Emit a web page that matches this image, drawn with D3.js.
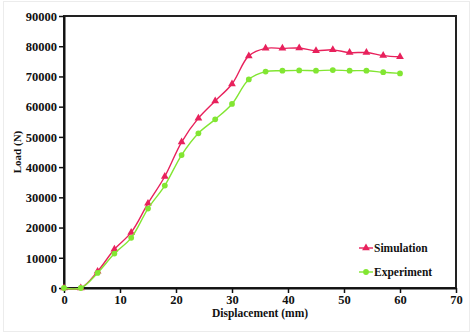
<!DOCTYPE html>
<html><head><meta charset="utf-8">
<script src="https://cdn.jsdelivr.net/npm/d3@7"></script>
<style>
html,body{margin:0;padding:0;background:#fff;}
svg{display:block;}
text{font-family:"Liberation Serif","Times New Roman",serif;font-weight:bold;fill:#111;}
</style></head>
<body>
<svg id="chart" width="474" height="332"></svg>
<script>
const displacement = [0,3,6,9,12,15,18,21,24,27,30,33,36,39,42,45,48,51,54,57,60];
const simulation = [0,0,5500,12800,18400,28000,36900,48300,56200,61900,67500,76800,79300,79300,79400,78500,78800,77900,77900,76900,76500];
const experiment = [0,0,5000,11400,16600,26300,33900,44000,51200,55800,60900,69000,71600,71900,72000,71900,72100,71900,71900,71400,71000];
const xTicks = [0,10,20,30,40,50,60,70];
const yTicks = [0,10000,20000,30000,40000,50000,60000,70000,80000,90000];
const seriesNames = ["Simulation","Experiment"];
const seriesColors = ["#e8215c","#82e632"];

const svg = d3.select("#chart");
const margin = {left:64, right:18, top:16, bottom:44};
const W = 474, H = 332;
const x = d3.scaleLinear().domain([0,70]).range([margin.left, W - margin.right]);
const y = d3.scaleLinear().domain([0,90000]).range([H - margin.bottom, margin.top]);

// faint outer frame
svg.append("rect").attr("x",3.5).attr("y",1.5).attr("width",466).attr("height",330)
  .attr("fill","none").attr("stroke","#ececec").attr("stroke-width",1);

// plot frame
svg.append("rect").attr("x",x(0)).attr("y",y(90000)).attr("width",x(70)-x(0)).attr("height",y(0)-y(90000))
  .attr("fill","none").attr("stroke","#222").attr("stroke-width",2);

const fs = 12.5;
const gx = svg.append("g").attr("transform",`translate(0,${y(0)})`)
  .call(d3.axisBottom(x).tickValues(xTicks).tickSize(5).tickSizeOuter(0).tickPadding(2));
gx.selectAll("text").attr("font-size",fs);
const gy = svg.append("g").attr("transform",`translate(${x(0)},0)`)
  .call(d3.axisLeft(y).tickValues(yTicks).tickSize(5).tickSizeOuter(0).tickPadding(2).tickFormat(d3.format("d")));
gy.selectAll("text").attr("font-size",fs).attr("dy","0.34em");
svg.selectAll(".domain").attr("stroke","#111").attr("stroke-width",2);
svg.selectAll(".tick line").attr("stroke","#111").attr("stroke-width",1.5);

// axis titles
svg.append("text").attr("transform",`translate(${(x(0)+x(70))/2},${H-15})`)
  .attr("text-anchor","middle").attr("font-size",11.5).text("Displacement (mm)");
svg.append("text").attr("transform",`translate(21,${(y(0)+y(90000))/2}) rotate(-90)`)
  .attr("text-anchor","middle").attr("font-size",11).text("Load (N)");

const line = d3.line().curve(d3.curveCatmullRom.alpha(0.5));
const data = [simulation, experiment];
const triangle = d3.symbol().type(d3.symbolTriangle).size(26);
const circle = d3.symbol().type(d3.symbolCircle).size(26);
const symbols = [triangle, circle];

data.forEach((vals,i)=>{
  const pts = displacement.map((d,j)=>[x(d), y(vals[j])]);
  svg.append("path").attr("d", line(pts)).attr("fill","none")
    .attr("stroke", seriesColors[i]).attr("stroke-width",1.4);
  svg.append("g").selectAll("path").data(pts).join("path")
    .attr("transform", p=>`translate(${p[0]},${p[1]})`)
    .attr("d", symbols[i]()).attr("fill", seriesColors[i]);
});

// legend
const legY = [248, 272];
seriesNames.forEach((name,i)=>{
  svg.append("line").attr("x1",359).attr("x2",373).attr("y1",legY[i]).attr("y2",legY[i])
    .attr("stroke",seriesColors[i]).attr("stroke-width",1.4);
  svg.append("path").attr("transform",`translate(366,${legY[i]})`).attr("d",symbols[i]()).attr("fill",seriesColors[i]);
  svg.append("text").attr("transform",`translate(374,${legY[i]+4})`)
    .attr("font-size",11.5).text(name);
});
</script>
</body></html>
